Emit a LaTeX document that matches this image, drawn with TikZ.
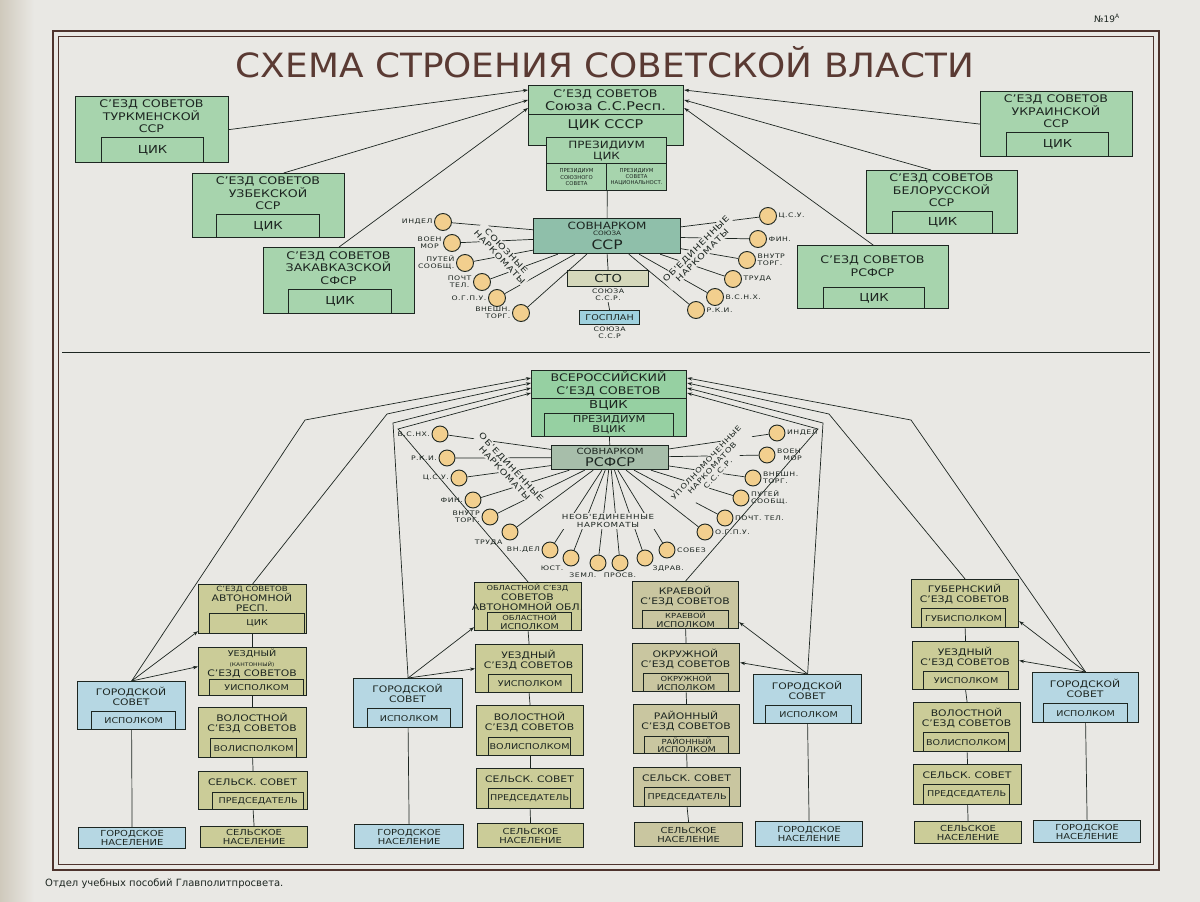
\documentclass[tikz,border=0pt]{standalone}
\usepackage{fontspec}
\setmainfont{DejaVu Sans}[FakeStretch=1.2]
\newfontfamily\plainfont{DejaVu Sans}
\newfontfamily\smallfont{DejaVu Sans}[FakeStretch=1.25,LetterSpace=8]
\newfontfamily\titlefont{DejaVu Sans}
\usetikzlibrary{positioning,arrows.meta}

\definecolor{paper}{HTML}{E9E8E4}
\definecolor{spine}{HTML}{CFC9BC}
\definecolor{ink}{HTML}{1D2621}
\definecolor{frame}{HTML}{4E332D}
\definecolor{titlec}{HTML}{5A3A33}
\definecolor{gtop}{HTML}{A7D4AD}
\definecolor{gvts}{HTML}{96D0A2}
\definecolor{gsnk}{HTML}{8FBFAA}
\definecolor{gsnr}{HTML}{A7BEAA}
\definecolor{stoc}{HTML}{D5D8BB}
\definecolor{plan}{HTML}{9FD1DE}
\definecolor{olv}{HTML}{CBCC98}
\definecolor{tan}{HTML}{C9C6A0}
\definecolor{blu}{HTML}{B6D7E3}
\definecolor{dot}{HTML}{F2CF8E}

\tikzset{
  sbox/.style={draw=ink, line width=1.2pt, anchor=north west, inner sep=0pt,
    align=center, text=ink, font=\fontsize{9}{10}\selectfont},
  btxt/.style={inner sep=0pt, align=center, text=ink, font=\fontsize{10.5}{12.5}\selectfont},
  stxt/.style={inner sep=0pt, align=center, text=ink, font=\fontsize{9}{10}\selectfont},
  ltxt/.style={inner sep=1.5pt, text=ink, font=\smallfont\fontsize{6.2}{6.8}\selectfont},
  rtxt/.style={inner sep=1pt, fill=paper, align=center, text=ink,
    font=\smallfont\fontsize{8}{9}\selectfont},
  circ/.style={circle, draw=ink, line width=0.9pt, fill=dot, minimum size=17pt, inner sep=0pt},
  conn/.style={draw=ink, line width=0.7pt},
  arr/.style={conn, -{Stealth[length=5pt, width=3.5pt]}},
}

\begin{document}
\begin{tikzpicture}[x=1pt,y=-1pt]
	\useasboundingbox (0,0) rectangle (1200,902);
	\fill[paper] (0,0) rectangle (1200,902);
	\shade[left color=spine, right color=paper] (0,0) rectangle (34,902);

	\draw[frame, line width=2.4pt] (53,31) rectangle (1159,870);
	\draw[frame, line width=0.8pt] (58.5,36.5) rectangle (1153.5,864.5);
	\draw[ink, line width=1pt] (62,352) -- (1150,352);

	\node[anchor=base, text=titlec, inner sep=0pt] (title) at (605,77)
		{\resizebox{738pt}{31pt}{\titlefont СХЕМА СТРОЕНИЯ СОВЕТСКОЙ ВЛАСТИ}};
	\node[anchor=base west, inner sep=0pt, text=ink, font=\plainfont\fontsize{9}{9}\selectfont]
		(num) at (1094,22) {№19\textsuperscript{А}};
	\node[anchor=base west, inner sep=0pt, text=ink, font=\plainfont\fontsize{10}{10}\selectfont]
		(foot) at (45,886) {Отдел учебных пособий Главполитпросвета.};

	% union level
	\node[sbox, fill=gtop, minimum width=155pt, minimum height=60pt] (ussr) at (528,85) {};
	\node[sbox, fill=gtop, minimum width=155pt, minimum height=31pt] (ussr-b) at (528,114) {};
	\node[btxt] (ussr-t) at (605.5,100)
		{С'ЕЗД СОВЕТОВ\\{\fontsize{12}{12}\selectfont Союза С.С.Респ.}};
	\node[btxt, font=\fontsize{12}{12}\selectfont] (ussr-c) at (605.5,125) {ЦИК СССР};
	\node[sbox, fill=gtop, minimum width=120pt, minimum height=26pt,
		font=\fontsize{10}{11}\selectfont] (pres) at (546,137) {ПРЕЗИДИУМ\\ЦИК};
	\node[sbox, fill=gtop, minimum width=60pt, minimum height=27pt,
		font=\plainfont\fontsize{5.3}{6.2}\selectfont] (pres-l) at (546,163)
		{ПРЕЗИДИУМ\\СОЮЗНОГО\\СОВЕТА};
	\node[sbox, fill=gtop, minimum width=60pt, minimum height=27pt,
		font=\plainfont\fontsize{5.3}{6.2}\selectfont] (pres-r) at (606,163)
		{ПРЕЗИДИУМ\\СОВЕТА\\НАЦИОНАЛЬНОСТ.};

	\node[sbox, fill=gsnk, minimum width=147pt, minimum height=35pt,
		font=\fontsize{10}{10}\selectfont] (snk) at (533,218)
		{СОВНАРКОМ\\[-3.5pt]{\fontsize{6}{6}\selectfont СОЮЗА}\\[4pt]{\fontsize{13}{13}\selectfont ССР}};
	\node[sbox, fill=stoc, minimum width=81pt, minimum height=16pt,
		font=\fontsize{11}{11}\selectfont] (sto) at (567,270) {СТО};
	\node[ltxt, below=0pt of sto, align=center] (sto-l) {СОЮЗА\\С.С.Р.};
	\node[sbox, fill=plan, minimum width=60pt, minimum height=14pt,
		font=\fontsize{8}{8}\selectfont] (gpl) at (579,310) {ГОСПЛАН};
	\node[ltxt, below=0pt of gpl, align=center] (gpl-l) {СОЮЗА\\С.С.Р};

	\draw[conn] (pres-l.south east) -- (snk.north);
	\draw[conn] (snk.south) -- (sto.north);
	\draw[conn] (sto-l.south) -- (gpl.north);

	\foreach \nm/\xa/\ya/\xb/\yb/\ia/\ib/\iy/\txt in {
		tur/75/96/228/162/101/203/137/{С'ЕЗД СОВЕТОВ\\ТУРКМЕНСКОЙ\\ССР},
		uzb/192/173/344/237/216/319/214/{С'ЕЗД СОВЕТОВ\\УЗБЕКСКОЙ\\ССР},
		zak/263/247/414/313/288/391/289/{С'ЕЗД СОВЕТОВ\\ЗАКАВКАЗСКОЙ\\СФСР},
		ukr/980/91/1132/156/1006/1108/132/{С'ЕЗД СОВЕТОВ\\УКРАИНСКОЙ\\ССР},
		blr/866/170/1017/233/892/992/211/{С'ЕЗД СОВЕТОВ\\БЕЛОРУССКОЙ\\ССР},
		rsf/797/245/948/308/823/924/287/{С'ЕЗД СОВЕТОВ\\РСФСР}}
	{
		\node[sbox, fill=gtop, minimum width={(\xb-\xa)*1pt}, minimum height={(\yb-\ya)*1pt}]
			(\nm) at (\xa,\ya) {};
		\node[btxt] (\nm-t) at ({(\xa+\xb)/2},{(\ya+\iy)/2}) {\txt};
		\node[sbox, fill=gtop, minimum width={(\ib-\ia)*1pt}, minimum height={(\yb-\iy)*1pt},
			font=\fontsize{11}{11}\selectfont] (\nm-i) at (\ia,\iy) {ЦИК};
	}

	\draw[arr] (tur.east) -- ([yshift=-5pt]ussr.north west);
	\draw[arr] ([xshift=15pt]uzb.north) -- ([yshift=-15pt]ussr.north west);
	\draw[arr] (zak.north) -- ([yshift=-23pt]ussr.north west);
	\draw[arr] (ukr.west) -- ([yshift=-5pt]ussr.north east);
	\draw[arr] ([xshift=-11pt]blr.north) -- ([yshift=-15pt]ussr.north east);
	\draw[arr] (rsf.north) -- ([yshift=-23pt]ussr.north east);

	\foreach \nm/\x/\y/\sd/\an/\al/\lab in {
		ind/443/222/west/east/right/ИНДЕЛ,
		voe/452/243/west/east/center/{ВОЕН\\МОР},
		put/465/263/west/east/right/{ПУТЕЙ\\СООБЩ.},
		pch/482/282/west/east/center/{ПОЧТ\\ТЕЛ.},
		ogp/497/298/west/east/right/О.Г.П.У.,
		vnt/521/313/west/east/right/{ВНЕШН.\\ТОРГ.},
		csu/768/216/east/west/left/Ц.С.У.,
		fin/758/239/east/west/left/ФИН.,
		vtr/747/260/east/west/left/{ВНУТР\\ТОРГ.},
		trd/733/279/east/west/left/ТРУДА,
		vsn/715/297/east/west/left/В.С.Н.Х.,
		rki/696/310/east/west/left/Р.К.И.}
	{
		\node[circ] (\nm) at (\x,\y) {};
		\draw[conn] (\nm) -- (snk);
		\node[ltxt, anchor=\an, align=\al] (\nm-l) at (\nm.\sd) {\lab};
	}
	\node[rtxt, rotate=-47] (un1) at (503,254) {СОЮЗНЫЕ\\НАРКОМАТЫ};
	\node[rtxt, rotate=45] (un2) at (699,252) {ОБ'ЕДИНЕННЫЕ\\НАРКОМАТЫ};

	% russian level
	\node[sbox, fill=gvts, minimum width=155pt, minimum height=66pt] (vts) at (531,370) {};
	\node[sbox, fill=gvts, minimum width=155pt, minimum height=38pt] (vts-b) at (531,398) {};
	\node[btxt] (vts-t) at (608.5,384) {ВСЕРОССИЙСКИЙ\\С'ЕЗД СОВЕТОВ};
	\node[btxt, font=\fontsize{11}{11}\selectfont] (vts-c) at (608.5,405.5) {ВЦИК};
	\node[sbox, fill=gvts, minimum width=129pt, minimum height=23pt,
		font=\fontsize{9.5}{10}\selectfont] (vtp) at (544,413) {ПРЕЗИДИУМ\\ВЦИК};
	\node[sbox, fill=gsnr, minimum width=117pt, minimum height=24pt,
		font=\fontsize{8.5}{9}\selectfont] (snr) at (551,445)
		{СОВНАРКОМ\\[2pt]{\fontsize{12}{12}\selectfont РСФСР}};
	\draw[conn] (vtp) -- (snr);

	\foreach \nm/\x/\y/\sd/\an/\al/\lab in {
		vs2/440/434/west/east/right/В.С.НХ.,
		rk2/447/458/west/east/right/Р.К.И.,
		cs2/459/478/west/east/right/Ц.С.У.,
		fn2/473/500/west/east/right/ФИН.,
		vt2/490/517/west/east/right/{ВНУТР\\ТОРГ.},
		tr2/510/532/south west/north east/right/ТРУДА,
		vd2/550/550/west/east/right/ВН.ДЕЛ,
		ju2/571/558/south west/north east/right/ЮСТ.,
		zm2/598/563/south/north east/right/ЗЕМЛ.,
		pr2/620/563/south/north/center/ПРОСВ.,
		zd2/645/558/south east/north west/left/ЗДРАВ.,
		sb2/667/550/east/west/left/СОБЕЗ,
		in2/777/433/east/west/left/ИНДЕЛ,
		vm2/767/455/east/west/left/{ВОЕН\\\quad МОР},
		vn2/753/478/east/west/left/{ВНЕШН.\\ТОРГ.},
		ps2/741/498/east/west/left/{ПУТЕЙ\\СООБЩ.},
		pt2/725/518/east/west/left/{ПОЧТ. ТЕЛ.},
		og2/705/532/east/west/left/О.Г.П.У.}
	{
		\node[circ, minimum size=16pt] (\nm) at (\x,\y) {};
		\draw[conn] (\nm) -- (snr);
		\node[ltxt, anchor=\an, align=\al] (\nm-l) at (\nm.\sd) {\lab};
	}
	\node[rtxt, rotate=-47] (rn1) at (508,470) {ОБ'ЕДИНЕННЫЕ\\НАРКОМАТЫ};
	\node[rtxt, rotate=47, font=\smallfont\fontsize{7}{8}\selectfont] (rn2) at (712,468)
		{УПОЛНОМОЧЕННЫЕ\\НАРКОМАТОВ\\С.С.С.Р.};
	\node[rtxt, font=\smallfont\fontsize{7}{8.5}\selectfont] (rn3) at (608,521)
		{НЕОБ'ЕДИНЕННЫЕ\\НАРКОМАТЫ};

	\foreach \nm/\fc/\xa/\ya/\xb/\yb/\ia/\ib/\iy/\txt/\itxt in {
		a1/olv/198/584/306/633/209/304/613/{\fontsize{7.2}{7.9}\selectfont С'ЕЗД СОВЕТОВ\\АВТОНОМНОЙ\\РЕСП.}/ЦИК,
		a2/olv/198/647/306/695/209/303/679/{\fontsize{8}{8.3}\selectfont УЕЗДНЫЙ\\{\fontsize{5}{5}\selectfont(КАНТОННЫЙ)}\\С'ЕЗД СОВЕТОВ}/УИСПОЛКОМ,
		a3/olv/198/707/306/757/210/296/738/{ВОЛОСТНОЙ\\С'ЕЗД СОВЕТОВ}/ВОЛИСПОЛКОМ,
		a4/olv/198/771/307/809/212/303/792/{СЕЛЬСК. СОВЕТ}/ПРЕДСЕДАТЕЛЬ,
		b1/olv/474/582/581/630/487/571/612/{\fontsize{6.9}{7.7}\selectfont ОБЛАСТНОЙ С'ЕЗД\\СОВЕТОВ\\АВТОНОМНОЙ ОБЛ.}/{\fontsize{7}{7.5}\selectfont ОБЛАСТНОЙ\\ИСПОЛКОМ},
		b2/olv/475/644/582/692/488/571/674/{УЕЗДНЫЙ\\С'ЕЗД СОВЕТОВ}/УИСПОЛКОМ,
		b3/olv/476/705/583/755/488/570/737/{ВОЛОСТНОЙ\\С'ЕЗД СОВЕТОВ}/ВОЛИСПОЛКОМ,
		b4/olv/476/768/583/808/488/570/788/{СЕЛЬСК. СОВЕТ}/ПРЕДСЕДАТЕЛЬ,
		c1/tan/632/581/738/628/642/728/610/{КРАЕВОЙ\\С'ЕЗД СОВЕТОВ}/{\fontsize{7}{7.5}\selectfont КРАЕВОЙ\\ИСПОЛКОМ},
		c2/tan/632/643/739/691/643/728/673/{ОКРУЖНОЙ\\С'ЕЗД СОВЕТОВ}/{\fontsize{7}{7.5}\selectfont ОКРУЖНОЙ\\ИСПОЛКОМ},
		c3/tan/633/704/739/753/644/728/736/{РАЙОННЫЙ\\С'ЕЗД СОВЕТОВ}/{\fontsize{7}{7.5}\selectfont РАЙОННЫЙ\\ИСПОЛКОМ},
		c4/tan/633/767/740/806/644/729/787/{СЕЛЬСК. СОВЕТ}/ПРЕДСЕДАТЕЛЬ,
		d1/olv/911/579/1018/627/921/1005/608/{ГУБЕРНСКИЙ\\С'ЕЗД СОВЕТОВ}/ГУБИСПОЛКОМ,
		d2/olv/912/641/1018/689/923/1008/671/{УЕЗДНЫЙ\\С'ЕЗД СОВЕТОВ}/УИСПОЛКОМ,
		d3/olv/913/702/1020/751/923/1008/732/{ВОЛОСТНОЙ\\С'ЕЗД СОВЕТОВ}/ВОЛИСПОЛКОМ,
		d4/olv/913/764/1021/804/923/1009/784/{СЕЛЬСК. СОВЕТ}/ПРЕДСЕДАТЕЛЬ,
		g-a/blu/77/681/185/729/91/175/711/{ГОРОДСКОЙ\\СОВЕТ}/ИСПОЛКОМ,
		g-b/blu/353/678/462/727/367/450/708/{ГОРОДСКОЙ\\СОВЕТ}/ИСПОЛКОМ,
		g-c/blu/753/674/861/723/765/851/705/{ГОРОДСКОЙ\\СОВЕТ}/ИСПОЛКОМ,
		g-d/blu/1032/672/1138/722/1043/1127/703/{ГОРОДСКОЙ\\СОВЕТ}/ИСПОЛКОМ}
	{
		\node[sbox, fill=\fc, minimum width={(\xb-\xa)*1pt}, minimum height={(\yb-\ya)*1pt}]
			(\nm) at (\xa,\ya) {};
		\node[stxt] (\nm-t) at ({(\xa+\xb)/2},{(\ya+\iy)/2+0.8}) {\txt};
		\node[sbox, fill=\fc, minimum width={(\ib-\ia)*1pt}, minimum height={(\yb-\iy)*1pt},
			font=\fontsize{8}{8.5}\selectfont] (\nm-i) at (\ia,\iy) {\itxt};
	}

	\foreach \nm/\fc/\xa/\ya/\xb/\yb/\txt in {
		a5/olv/200/826/307/847/СЕЛЬСКОЕ,
		b5/olv/477/823/583/847/СЕЛЬСКОЕ,
		c5/tan/634/822/742/846/СЕЛЬСКОЕ,
		d5/olv/914/821/1021/843/СЕЛЬСКОЕ,
		gn-a/blu/78/827/185/848/ГОРОДСКОЕ,
		gn-b/blu/354/824/463/848/ГОРОДСКОЕ,
		gn-c/blu/755/821/862/846/ГОРОДСКОЕ,
		gn-d/blu/1033/820/1140/842/ГОРОДСКОЕ}
	{
		\node[sbox, fill=\fc, minimum width={(\xb-\xa)*1pt}, minimum height={(\yb-\ya)*1pt},
			font=\fontsize{8.3}{8.8}\selectfont] (\nm) at (\xa,\ya) {\txt\\НАСЕЛЕНИЕ};
	}

	\foreach \c in {a,b,c,d} {
		\draw[conn] (\c1.south) -- (\c2.north);
		\draw[conn] (\c2.south) -- (\c3.north);
		\draw[conn] (\c3.south) -- (\c4.north);
		\draw[conn] (\c4.south) -- (\c5.north);
		\draw[conn] (g-\c.south) -- (gn-\c.north);
	}

	\draw[arr] (g-a.north) -- ([yshift=3pt]a1.south west);
	\draw[arr] (g-a.north) -- ([yshift=5pt]a2.west);
	\draw[arr] (g-b.north) -- ([yshift=4pt]b1.south west);
	\draw[arr] (g-b.north) -- (b2.west);
	\draw[arr] (g-c.north) -- ([yshift=7pt]c1.south east);
	\draw[arr] (g-c.north) -- ([yshift=5pt]c2.east);
	\draw[arr] (g-d.north) -- ([yshift=7pt]d1.south east);
	\draw[arr] (g-d.north) -- ([yshift=5pt]d2.east);

	\coordinate (k1) at (305,420);
	\coordinate (k2) at (387,414);
	\coordinate (k3) at (393,423);
	\coordinate (k4) at (398,429);
	\coordinate (k5) at (818,429);
	\coordinate (k6) at (823,423);
	\coordinate (k7) at (829,414);
	\coordinate (k8) at (911,420);

	\draw[arr] (g-a.north) -- (k1) -- ([yshift=-8pt]vts.north west);
	\draw[arr] (a1.north) -- (k2) -- ([yshift=-13pt]vts.north west);
	\draw[arr] (g-b.north) -- (k3) -- ([yshift=-18pt]vts.north west);
	\draw[arr] (b1.north) -- (k4) -- ([yshift=-23pt]vts.north west);
	\draw[arr] (c1.north) -- (k5) -- ([yshift=-23pt]vts.north east);
	\draw[arr] (g-c.north) -- (k6) -- ([yshift=-18pt]vts.north east);
	\draw[arr] (d1.north) -- (k7) -- ([yshift=-13pt]vts.north east);
	\draw[arr] (g-d.north) -- (k8) -- ([yshift=-8pt]vts.north east);
\end{tikzpicture}
\end{document}
